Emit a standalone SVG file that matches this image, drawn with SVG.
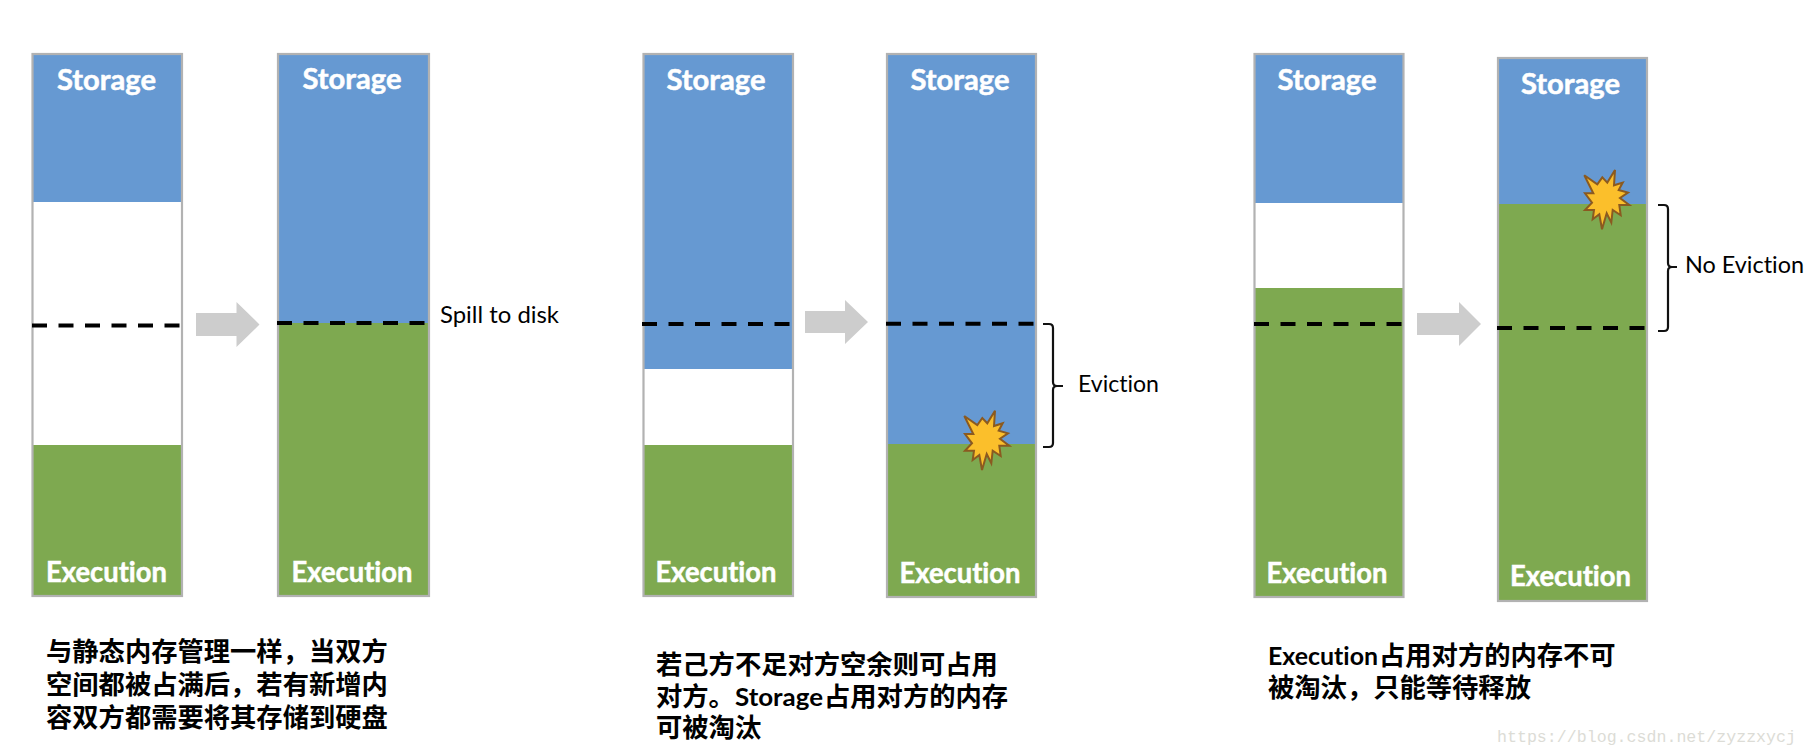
<svg xmlns="http://www.w3.org/2000/svg" width="1808" height="756" viewBox="0 0 1808 756">
<style>
text{font-family:"Lato","Noto Sans","Noto Sans CJK SC",sans-serif;font-variant-ligatures:none}
.frame{fill:none;stroke:#b2b2b2;stroke-width:2.2}
.bg{fill:#fff}
.blue{fill:#6699d2}
.green{fill:#7ea950}
.lbl{fill:#fff;stroke:#fff;stroke-width:.5;font-size:28px;font-weight:700;text-anchor:middle}
.dash{stroke:#000;stroke-width:4;stroke-dasharray:15 11.500;fill:none}
.arrow{fill:#cdcdcd}
.brace{fill:none;stroke:#111;stroke-width:2.200}
.note{fill:#000;font-size:23.500px}
.cap{fill:#000;font-size:26.300px;font-weight:700;font-family:"Noto Sans CJK SC","Lato",sans-serif}
.lat{fill:#000;font-size:25px;font-weight:700;font-family:"Lato",sans-serif}
.star{fill:#fbbf2b;stroke:#8b5a20;stroke-width:2}
.wm{fill:#dcdcd6;font-family:"Liberation Mono",monospace;font-size:17px}
</style>
<defs>
<polygon id="burst" class="star" points="964.3,416 977.3,425 982.3,418 987.3,423.3 995,410.7 994,426 1002.7,423.3 998.7,430.7 1008,433.3 1000,438.7 1009.3,445.7 999.3,445.7 1000.7,456 992.7,450.7 991.3,463.3 986.7,454 982,470 979.3,455 972.7,460 974,450.7 965,450.7 972,443.3 965,434 973.3,434"/>
</defs>
<rect width="1808" height="756" fill="#fff"/>
<g id="bar1">
<rect class="bg" x="32.500" y="54" width="149.500" height="542"/>
<rect class="blue" x="32.500" y="54" width="149.500" height="148"/>
<rect class="green" x="32.500" y="445" width="149.500" height="151"/>
<rect class="frame" x="32.500" y="54" width="149.500" height="542"/>
<text class="lbl" x="106.500" y="89.500" textLength="99" lengthAdjust="spacingAndGlyphs">Storage</text>
<text class="lbl" x="106.500" y="582" textLength="121" lengthAdjust="spacingAndGlyphs">Execution</text>
</g>
<g id="bar2">
<rect class="blue" x="278" y="54" width="151" height="269"/>
<rect class="green" x="278" y="323" width="151" height="273"/>
<rect class="frame" x="278" y="54" width="151" height="542"/>
<text class="lbl" x="352" y="88.500" textLength="99" lengthAdjust="spacingAndGlyphs">Storage</text>
<text class="lbl" x="352" y="582" textLength="121" lengthAdjust="spacingAndGlyphs">Execution</text>
</g>
<g id="bar3">
<rect class="bg" x="643.500" y="54" width="149.500" height="542"/>
<rect class="blue" x="643.500" y="54" width="149.500" height="315"/>
<rect class="green" x="643.500" y="445" width="149.500" height="151"/>
<rect class="frame" x="643.500" y="54" width="149.500" height="542"/>
<text class="lbl" x="716" y="89.500" textLength="99" lengthAdjust="spacingAndGlyphs">Storage</text>
<text class="lbl" x="716" y="582" textLength="121" lengthAdjust="spacingAndGlyphs">Execution</text>
</g>
<g id="bar4">
<rect class="blue" x="887" y="54" width="149" height="390"/>
<rect class="green" x="887" y="444" width="149" height="153"/>
<rect class="frame" x="887" y="54" width="149" height="543"/>
<text class="lbl" x="960" y="89.500" textLength="99" lengthAdjust="spacingAndGlyphs">Storage</text>
<text class="lbl" x="960" y="583" textLength="121" lengthAdjust="spacingAndGlyphs">Execution</text>
<use href="#burst"/>
</g>
<g id="bar5">
<rect class="bg" x="1254.500" y="54" width="149" height="543"/>
<rect class="blue" x="1254.500" y="54" width="149" height="149"/>
<rect class="green" x="1254.500" y="288" width="149" height="309"/>
<rect class="frame" x="1254.500" y="54" width="149" height="543"/>
<text class="lbl" x="1327" y="89.500" textLength="99" lengthAdjust="spacingAndGlyphs">Storage</text>
<text class="lbl" x="1327" y="583" textLength="121" lengthAdjust="spacingAndGlyphs">Execution</text>
</g>
<g id="bar6">
<rect class="blue" x="1498" y="58" width="149" height="146"/>
<rect class="green" x="1498" y="204" width="149" height="397"/>
<rect class="frame" x="1498" y="58" width="149" height="543"/>
<text class="lbl" x="1570.500" y="93.500" textLength="99" lengthAdjust="spacingAndGlyphs">Storage</text>
<text class="lbl" x="1570.500" y="586" textLength="121" lengthAdjust="spacingAndGlyphs">Execution</text>
<use href="#burst" transform="translate(620,-240.700)"/>
</g>
<g id="connectors">
<path class="dash" d="M32 325.500H180"/>
<path class="dash" d="M277 323H428"/>
<path class="dash" d="M642 324H792"/>
<path class="dash" d="M886 323.700H1034"/>
<path class="dash" d="M1254 324H1403"/>
<path class="dash" d="M1497 328H1645"/>
<polygon class="arrow" points="196,313 236.500,313 236.500,302 259.500,324.500 236.500,347 236.500,336 196,336"/>
<polygon class="arrow" points="805,311 845,311 845,300 868,322 845,344 845,333 805,333"/>
<polygon class="arrow" points="1417,313 1459,313 1459,302 1481,324 1459,346 1459,335 1417,335"/>
<path class="brace" d="M1043 324H1049Q1053 324 1053 328V382Q1053 386 1057 386H1063M1057 386Q1053 386 1053 390V443Q1053 447 1049 447H1043"/>
<path class="brace" d="M1658 205H1664Q1668 205 1668 209V263Q1668 267 1672 267H1677M1672 267Q1668 267 1668 271V327Q1668 331 1664 331H1658"/>
</g>
<g id="labels">
<text class="note" x="440" y="323" textLength="119" lengthAdjust="spacingAndGlyphs">Spill  to disk</text>
<text class="note" x="1078" y="392" textLength="81" lengthAdjust="spacingAndGlyphs">Eviction</text>
<text class="note" x="1685" y="273" textLength="119" lengthAdjust="spacingAndGlyphs">No Eviction</text>
<text class="cap" x="46" y="661">与静态内存管理一样，当双方</text>
<text class="cap" x="46" y="694">空间都被占满后，若有新增内</text>
<text class="cap" x="46" y="727">容双方都需要将其存储到硬盘</text>
<text class="cap" x="656" y="674">若己方不足对方空余则可占用</text>
<text class="cap" x="656" y="706">对方。</text>
<text class="lat" x="735" y="706" textLength="88" lengthAdjust="spacingAndGlyphs">Storage</text>
<text class="cap" x="824" y="706">占用对方的内存</text>
<text class="cap" x="656" y="737">可被淘汰</text>
<text class="lat" x="1268" y="665" textLength="110" lengthAdjust="spacingAndGlyphs">Execution</text>
<text class="cap" x="1379" y="665">占用对方的内存不可</text>
<text class="cap" x="1268" y="697">被淘汰，只能等待释放</text>
<text class="wm" x="1497" y="742" textLength="299" lengthAdjust="spacingAndGlyphs">https://blog.csdn.net/zyzzxycj</text>
</g>
</svg>
